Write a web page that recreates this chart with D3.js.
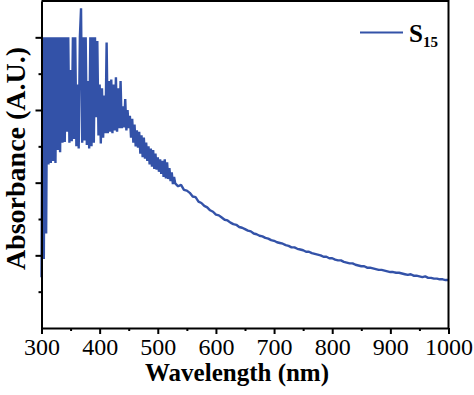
<!DOCTYPE html>
<html>
<head>
<meta charset="utf-8">
<script src="https://cdn.jsdelivr.net/npm/d3@7"></script>
<style>
  body { margin: 0; background: #fff; }
  svg { display: block; }
</style>
</head>
<body>
<div id="chart"></div>
<script>
// noisy part of the spectrum, sampled every 2 nm from 300 nm
const noisyStart = 300;
const noisyStep = 2;
const noisyAbs = [
  0.70, 4.00, 0.95, 4.00, 1.30, 4.00, 2.25, 4.00, 2.27, 4.00,
  2.30, 4.00, 2.27, 4.00, 2.45, 4.00, 2.42, 4.00, 2.55, 4.00,
  2.56, 4.00, 2.70, 4.00, 2.55, 3.55, 2.57, 4.00, 2.60, 4.00,
  2.50, 3.35, 2.47, 4.00, 4.40, 2.55, 4.00, 2.58, 4.00, 2.52,
  3.40, 2.47, 4.00, 2.50, 4.00, 2.55, 4.00, 2.90, 3.95, 2.65,
  3.35, 2.54, 3.30, 2.62, 3.20, 2.68, 3.93, 2.68, 3.40, 2.70,
  3.42, 2.68, 3.35, 2.72, 3.45, 2.70, 3.30, 2.75, 3.40, 2.75,
  3.05, 2.76, 3.15, 2.72, 3.00, 2.75, 2.92, 2.62, 2.88, 2.55,
  2.80, 2.50, 2.72, 2.48, 2.70, 2.40, 2.65, 2.35, 2.62, 2.33,
  2.55, 2.30, 2.50, 2.25, 2.47, 2.22, 2.45, 2.19, 2.40, 2.18,
  2.35, 2.15, 2.32, 2.12, 2.30, 2.08, 2.32, 2.06, 2.28, 2.05,
  2.20, 2.02, 2.14, 1.98, 2.08
];

// smooth tail, every 5 nm from 530 nm to 1000 nm
const tailStart = 530;
const tailStep = 5;
const tailAbs = [
  1.99, 1.95, 1.97, 1.90, 1.89, 1.86, 1.81, 1.80, 1.74, 1.72,
  1.68, 1.66, 1.62, 1.60, 1.56, 1.55, 1.52, 1.49, 1.48, 1.45,
  1.43, 1.42, 1.39, 1.38, 1.36, 1.34, 1.33, 1.30, 1.29, 1.27,
  1.26, 1.24, 1.23, 1.21, 1.20, 1.18, 1.17, 1.16, 1.14, 1.13,
  1.11, 1.11, 1.09, 1.08, 1.07, 1.05, 1.05, 1.03, 1.02, 1.01,
  1.00, 0.98, 0.98, 0.96, 0.96, 0.94, 0.93, 0.93, 0.91, 0.90,
  0.89, 0.89, 0.87, 0.86, 0.85, 0.85, 0.83, 0.83, 0.82, 0.81,
  0.80, 0.80, 0.79, 0.78, 0.77, 0.77, 0.76, 0.76, 0.75, 0.74,
  0.73, 0.74, 0.72, 0.72, 0.71, 0.70, 0.71, 0.69, 0.69, 0.68,
  0.68, 0.67, 0.67, 0.66, 0.66
];

const xTicks = [300, 400, 500, 600, 700, 800, 900, 1000];
const xMinorTicks = [350, 450, 550, 650, 750, 850, 950];
const yTicks = [1, 2, 3, 4];
const yMinorTicks = [0.5, 1.5, 2.5, 3.5];
const seriesName = 'S';
const seriesSub = '15';
const xTitle = 'Wavelength (nm)';
const yTitle = 'Absorbance (A.U.)';

const width = 474;
const height = 395;
const margin = { top: 1, right: 25.5, bottom: 67, left: 41.5 };
const blue = '#3352a8';
const serif = 'Liberation Serif, Times New Roman, serif';

const spectrum = noisyAbs.map((v, i) => ({ wl: noisyStart + i * noisyStep, a: v }))
  .concat(tailAbs.map((v, i) => ({ wl: tailStart + i * tailStep, a: v })));

const svg = d3.select('#chart')
  .append('svg')
  .attr('width', width)
  .attr('height', height);

const x = d3.scaleLinear()
  .domain([300, 1000])
  .range([margin.left, width - margin.right]);

const y = d3.scaleLinear()
  .domain([0, 4.5])
  .range([height - margin.bottom, margin.top]);

// the spectrum
svg.append('path')
  .datum(spectrum)
  .attr('fill', 'none')
  .attr('stroke', blue)
  .attr('stroke-width', 2.4)
  .attr('stroke-linejoin', 'bevel')
  .attr('d', d3.line().x(d => x(d.wl)).y(d => y(d.a)));

// frame (top and right)
svg.append('path')
  .attr('fill', 'none')
  .attr('stroke', '#000')
  .attr('stroke-width', 2)
  .attr('d', `M${x(300)},${y(4.5)}H${x(1000)}V${y(0)}`);

// x axis
const xAxis = svg.append('g')
  .attr('transform', `translate(0,${y(0)})`)
  .call(d3.axisBottom(x).tickValues(xTicks).tickFormat(d3.format('d'))
    .tickSize(6).tickPadding(4).tickSizeOuter(0))
  .attr('font-family', serif)
  .attr('font-size', 24);
xAxis.select('.domain').attr('stroke-width', 2);
xAxis.selectAll('.tick line').attr('stroke-width', 2);
xAxis.selectAll('.tick text').attr('fill', '#000');

svg.append('g')
  .attr('transform', `translate(0,${y(0)})`)
  .call(d3.axisBottom(x).tickValues(xMinorTicks).tickSize(3).tickFormat(''))
  .call(g => g.select('.domain').remove())
  .selectAll('.tick line').attr('stroke-width', 2);

// y axis, no labels
const yAxis = svg.append('g')
  .attr('transform', `translate(${x(300)},0)`)
  .call(d3.axisLeft(y).tickValues(yTicks).tickSize(6).tickFormat('').tickSizeOuter(0));
yAxis.select('.domain').attr('stroke-width', 2);
yAxis.selectAll('.tick line').attr('stroke-width', 2);

svg.append('g')
  .attr('transform', `translate(${x(300)},0)`)
  .call(d3.axisLeft(y).tickValues(yMinorTicks).tickSize(3).tickFormat(''))
  .call(g => g.select('.domain').remove())
  .selectAll('.tick line').attr('stroke-width', 2);

// axis titles
svg.append('text')
  .attr('x', 237)
  .attr('y', 381)
  .attr('text-anchor', 'middle')
  .attr('font-family', serif)
  .attr('font-weight', 'bold')
  .attr('font-size', 25)
  .text(xTitle);

svg.append('text')
  .attr('transform', 'translate(25,158.5) rotate(-90)')
  .attr('text-anchor', 'middle')
  .attr('font-family', serif)
  .attr('font-weight', 'bold')
  .attr('font-size', 28)
  .text(yTitle);

// legend
const legend = svg.append('g');
legend.append('line')
  .attr('x1', 360).attr('x2', 403)
  .attr('y1', 32.5).attr('y2', 32.5)
  .attr('stroke', blue)
  .attr('stroke-width', 2);
const lt = legend.append('text')
  .attr('x', 409)
  .attr('y', 42)
  .attr('font-family', serif)
  .attr('font-weight', 'bold')
  .attr('font-size', 25);
lt.append('tspan').text(seriesName);
lt.append('tspan')
  .attr('dy', 5)
  .attr('font-size', 15)
  .text(seriesSub);
</script>
</body>
</html>
